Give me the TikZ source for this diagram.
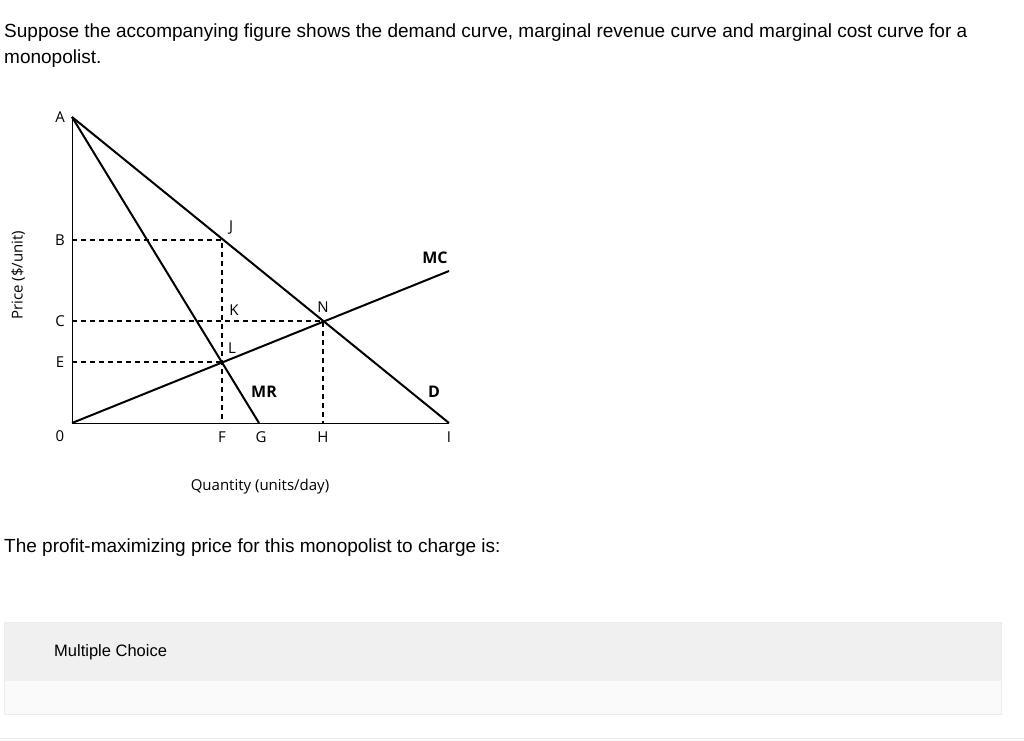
\documentclass[tikz,border=0pt]{standalone}
\usepackage{fontspec}
\setmainfont{Liberation Sans}
\newfontfamily\gfont{Open Sans}
\begin{document}
\begin{tikzpicture}[x=1pt,y=-1pt,
  lab/.style={font=\gfont\fontsize{15}{17}\selectfont,inner sep=0pt},
  blab/.style={font=\gfont\bfseries\fontsize{16}{18}\selectfont,inner sep=0pt},
  curve/.style={line width=2pt},
  guide/.style={line width=1.6pt,dash pattern=on 5pt off 4pt},
  axis/.style={line width=0.9pt},
  qtext/.style={font=\fontsize{19}{24}\selectfont,inner sep=0pt,anchor=west}]
\useasboundingbox (0,0) rectangle (1024,740);
\fill[white] (0,0) rectangle (1024,740);
\node[qtext] (q1) at (4,33) {Suppose the accompanying figure shows the demand curve, marginal revenue curve and marginal cost curve for a};
\node[qtext] (q2) at (4,59) {monopolist.};
\coordinate (A) at (72,117);
\coordinate (O) at (72,423);
\coordinate (I) at (449,423);
\coordinate (G) at (259,423);
\coordinate (J) at (222,240);
\coordinate (N) at (323,321);
\coordinate (L) at (222,362);
\coordinate (MCend) at (449,271);
\coordinate (Fb) at (222,423);
\coordinate (Hb) at (323,423);
\coordinate (Bp) at (72,240);
\coordinate (Cp) at (72,321);
\coordinate (Ep) at (72,362);
\draw[axis] (A) -- (O) -- (I);
\draw[guide] (Bp) -- (J) -- (Fb);
\draw[guide] (Cp) -- (N) -- (Hb);
\draw[guide] (Ep) -- (L);
\draw[curve] (A) -- (I);
\draw[curve] (A) -- (G);
\draw[curve] (O) -- (MCend);
\node[lab] (la) at (60,117) {A};
\node[lab] (lb) at (60,240) {B};
\node[lab] (lc) at (60,321) {C};
\node[lab] (le) at (60,362) {E};
\node[lab] (l0) at (60,436) {0};
\node[lab] (lf) at (222,437) {F};
\node[lab] (lg) at (261,437) {G};
\node[lab] (lh) at (323,437) {H};
\node[lab] (li) at (449,437) {I};
\node[lab] (lj) at (231,228) {J};
\node[lab] (lk) at (234,310) {K};
\node[lab] (ln) at (323,307) {N};
\node[lab] (ll) at (232,348) {L};
\node[blab] (lmr) at (264,392) {MR};
\node[blab] (ld) at (434,392) {D};
\node[blab] (lmc) at (435,258) {MC};
\node[lab,rotate=90] (ylab) at (18,275) {Price (\$/unit)};
\node[lab] (xlab) at (260,487) {Quantity (units/day)};
\node[qtext] (q3) at (4,548) {The profit-maximizing price for this monopolist to charge is:};
\fill[black!6] (4,622) rectangle (1001,681);
\fill[black!2] (4,681) rectangle (1001,714);
\draw[black!8] (4,622) rectangle (1001,714);
\node[inner sep=0pt,anchor=west,font=\fontsize{16.5}{20}\selectfont] (mc) at (54,652) {Multiple Choice};
\draw[black!8] (0,738) -- (1024,738);
\end{tikzpicture}
\end{document}
